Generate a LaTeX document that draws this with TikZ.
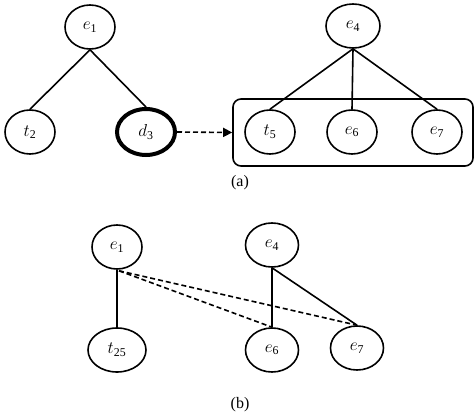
\documentclass[tikz,border=0pt]{standalone}
\usepackage{fontspec}
\setmainfont{Liberation Serif}
\usetikzlibrary{shapes.geometric,arrows.meta}
\begin{document}
\begin{tikzpicture}[x=1pt,y=-1pt,
  ent/.style={draw,line width=1.6pt,ellipse,minimum width=50pt,minimum height=44pt,inner sep=0pt,font=\fontsize{17}{19}\selectfont},
  bold/.style={ent,line width=4pt,minimum width=58pt,minimum height=46pt},
  edge/.style={line width=1.6pt},
  dedge/.style={line width=1.6pt,dash pattern=on 5pt off 3pt},
  lab/.style={font=\fontsize{16}{18}\selectfont}]
\useasboundingbox (0,0) rectangle (474,415);
% (a)
\node[ent] (e1) at (90,27) {$e_{\mathrm{1}}$};
\node[ent] (t2) at (30,132) {$t_{\mathrm{2}}$};
\node[bold] (d3) at (146,132) {$d_{\mathrm{3}}$};
\node[ent,minimum width=54pt] (e4) at (353,26) {$e_{\mathrm{4}}$};
\node[ent] (t5) at (270,132) {$t_{\mathrm{5}}$};
\node[ent] (e6a) at (352,132) {$e_{\mathrm{6}}$};
\node[ent] (e7a) at (437,132) {$e_{\mathrm{7}}$};
\node[draw,line width=1.6pt,rounded corners=8pt,minimum width=240pt,minimum height=67pt,inner sep=0pt] (box) at (353,132.5) {};
\draw[edge] (e1.south) -- (t2.north);
\draw[edge] (e1.south) -- (d3.north);
\draw[edge] (e4.south) -- (t5.north);
\draw[edge] (e4.south) -- (e6a.north);
\draw[edge] (e4.south) -- (e7a.north);
\draw[dedge,-{Triangle[width=9pt,length=9pt]}] (d3.east) -- (box.west);
\node[lab] (la) at (240,183) {(a)};
% (b)
\node[ent] (b1) at (117,247) {$e_{\mathrm{1}}$};
\node[ent,minimum width=58pt] (b25) at (117,350) {$t_{\mathrm{25}}$};
\node[ent,minimum width=53pt] (b4) at (272,245) {$e_{\mathrm{4}}$};
\node[ent,minimum width=53pt] (b6) at (272,350) {$e_{\mathrm{6}}$};
\node[ent,minimum width=53pt] (b7) at (357,348) {$e_{\mathrm{7}}$};
\draw[edge] (b1.south) -- (b25.north);
\draw[edge] (b4.south) -- (b6.north);
\draw[edge] (b4.south) -- (b7.north);
\draw[dedge] (b1.south) ++(2,1) coordinate (bs) -- (b6.north);
\draw[dedge] (bs) -- (b7.north);
\node[lab] (lb) at (240,405) {(b)};
\end{tikzpicture}
\end{document}
